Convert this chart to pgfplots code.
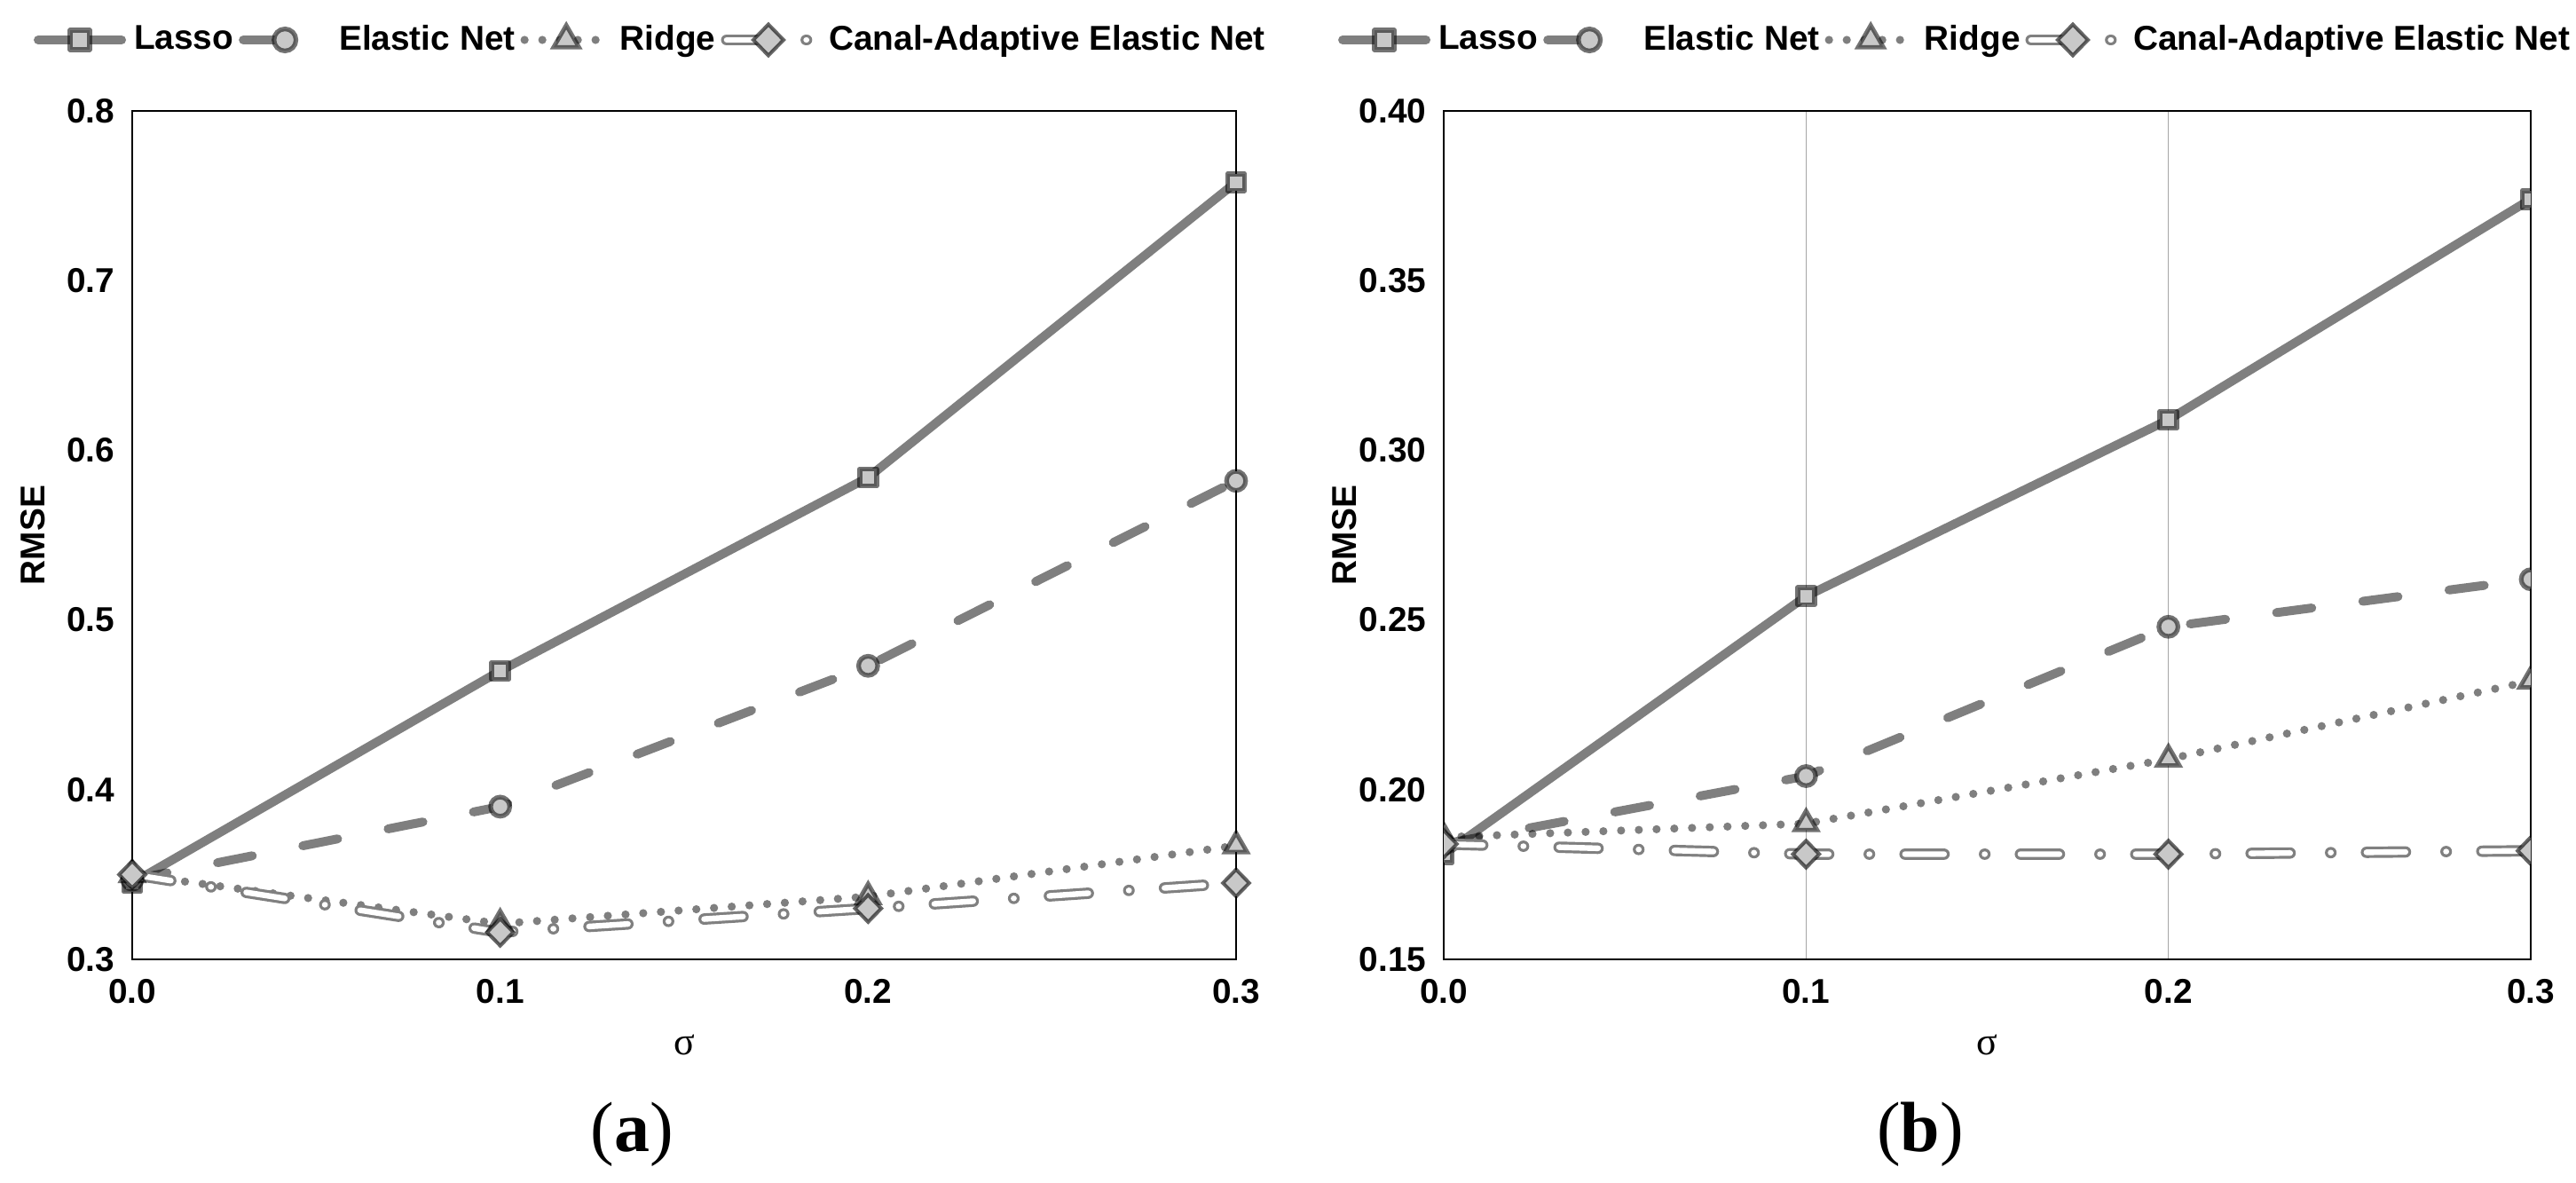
\documentclass[border=0pt]{standalone}
\usepackage{fontspec}
\setmainfont{Liberation Sans}
\newfontfamily\seriffont{Liberation Serif}
\usepackage{pgfplots}
\pgfplotsset{compat=1.18}
\definecolor{lg}{HTML}{808080}
\definecolor{mfill}{HTML}{C8C8C8}

\pgfplotsset{
  lasso/.style={draw=black, draw opacity=0.5, line width=2.5pt, line join=round, line cap=round,
    mark=square*, mark size=2.4pt,
    mark options={solid, draw=black, draw opacity=0.55, fill=mfill, line width=1.4pt}},
  elastic/.style={draw=black, draw opacity=0.5, line width=2.5pt, line cap=round,
    dash pattern=on 10pt off 14.5pt,
    mark=*, mark size=2.7pt,
    mark options={solid, draw=black, draw opacity=0.55, fill=mfill, line width=1.3pt}},
  ridge/.style={draw=black, draw opacity=0.5, line width=2.3pt, line cap=round,
    dash pattern=on 0pt off 5pt,
    mark=triangle*, mark size=3.6pt,
    mark options={solid, draw=black, draw opacity=0.55, fill=mfill, line width=1.2pt}},
  canal/.style={draw=lg, line width=0.8pt, double=white, double distance=1.6pt, line cap=round,
    dash pattern=on 11pt off 11.4pt on 0.1pt off 10pt,
    mark=diamond*, mark size=3.8pt,
    mark options={solid, draw=black, draw opacity=0.6, fill=mfill, line width=1pt, xscale=1.3}},
  myaxis/.style={
    scale only axis, anchor=south west, height=239pt,
    xmin=0, xmax=0.3, xtick={0,0.1,0.2,0.3},
    axis line style={black, line width=0.7pt},
    major tick length=0pt,
    /pgf/number format/assume math mode=true,
    tick label style={font=\fontsize{9.7}{11}\selectfont\bfseries},
    xticklabel style={inner sep=0pt, anchor=north, yshift=-5.5pt,
      /pgf/number format/fixed, /pgf/number format/fixed zerofill, /pgf/number format/precision=1},
    yticklabel style={inner sep=0pt, anchor=east, xshift=-4.75pt,
      /pgf/number format/fixed, /pgf/number format/fixed zerofill},
    xlabel={\seriffont σ},
    every axis x label/.style={at={([yshift=-24pt]axis description cs:0.5,0)}, anchor=center,
      font=\fontsize{11}{12}\selectfont},
    ylabel={RMSE},
    every axis y label/.style={at={([xshift=-28pt]axis description cs:0,0.5)}, rotate=90, anchor=center,
      font=\fontsize{9.7}{11}\selectfont\bfseries},
    legend columns=4,
    legend cell align=left,
    legend style={anchor=west, draw=none, fill=none, inner sep=0pt, outer sep=0pt,
      font=\fontsize{9.7}{11}\selectfont\bfseries,
      cells={inner xsep=0pt},
      nodes={inner xsep=0pt},
      /tikz/every odd column/.append style={column sep=2.25pt},
      /tikz/every even column/.append style={column sep=1.5pt}},
    legend image code/.code={\draw[mark repeat=2, mark phase=2, ##1, every mark/.append style={scale=1.15}] plot coordinates {(0pt,0pt) (11.75pt,0pt) (23.5pt,0pt)};},
    legend entries={Lasso, Elastic Net\hspace{-1pt}, Ridge\hspace{-7pt}, \hspace{1.5pt}Canal-Adaptive Elastic Net},
  }
}

\begin{document}
\begin{tikzpicture}
\useasboundingbox (0,0) rectangle (725.75pt,333pt);

\begin{axis}[myaxis, at={(37.25pt,62.75pt)}, width=311pt,
  ymin=0.3, ymax=0.8, ytick={0.3,0.4,0.5,0.6,0.7,0.8},
  yticklabel style={/pgf/number format/precision=1},
  legend style={at={(-0.0892,1.0837)}}]
\addplot[lasso] coordinates {(0,0.345) (0.1,0.470) (0.2,0.584) (0.3,0.758)};
\addplot[elastic] coordinates {(0,0.347) (0.1,0.390) (0.2,0.473) (0.3,0.582)};
\addplot[ridge] coordinates {(0,0.350) (0.1,0.321) (0.2,0.337) (0.3,0.367)};
\addplot[canal] coordinates {(0,0.350) (0.1,0.316) (0.2,0.330) (0.3,0.345)};
\end{axis}

\begin{axis}[myaxis, at={(406.75pt,62.75pt)}, width=306.25pt,
  ymin=0.15, ymax=0.40, ytick={0.15,0.20,0.25,0.30,0.35,0.40},
  yticklabel style={/pgf/number format/precision=2},
  xmajorgrids, grid style={draw=gray!70, line width=0.4pt},
  clip marker paths=true,
  legend style={at={(-0.0971,1.0837)}}]
\addplot[lasso] coordinates {(0,0.181) (0.1,0.257) (0.2,0.309) (0.3,0.374)};
\addplot[elastic] coordinates {(0,0.184) (0.1,0.204) (0.2,0.248) (0.3,0.262)};
\addplot[ridge] coordinates {(0,0.186) (0.1,0.190) (0.2,0.209) (0.3,0.232)};
\addplot[canal] coordinates {(0,0.184) (0.1,0.181) (0.2,0.181) (0.3,0.182)};
\end{axis}

\node[font=\seriffont\fontsize{20}{24}\selectfont] at (178pt,13.5pt) {(\textbf{a})};
\node[font=\seriffont\fontsize{20}{24}\selectfont] at (541pt,13.5pt) {(\textbf{b})};
\end{tikzpicture}
\end{document}
